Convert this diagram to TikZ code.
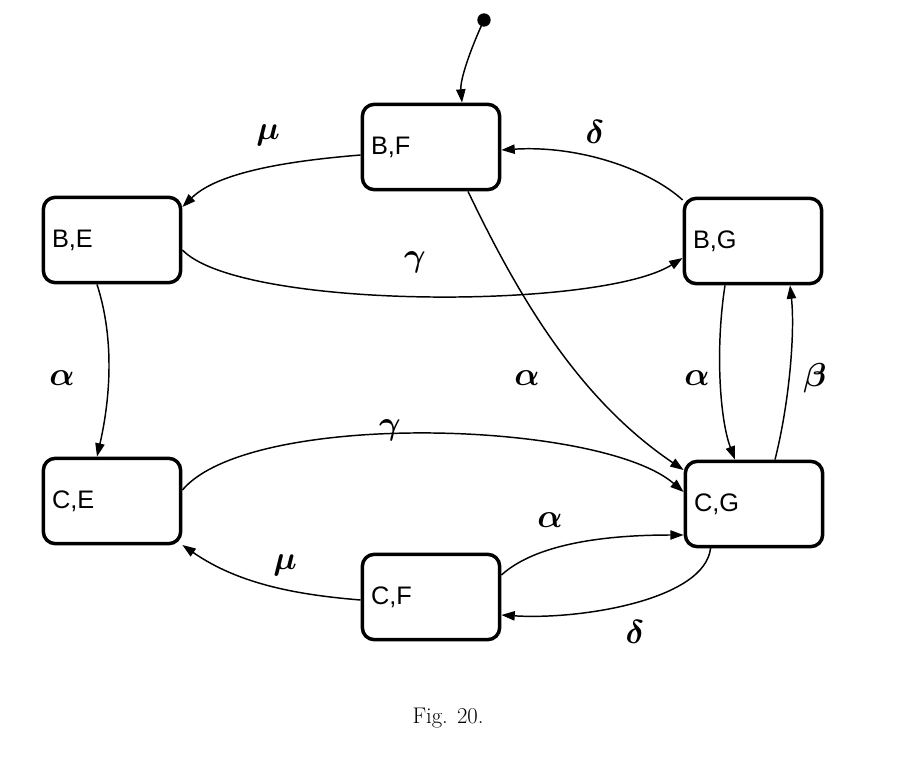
\documentclass[tikz,border=0pt]{standalone}
\usepackage{fontspec}
\usepackage{bm}
\newfontfamily\boxfont{Liberation Sans}
\usetikzlibrary{arrows.meta}
\begin{document}
\begin{tikzpicture}[x=0.75pt,y=-0.75pt,
 st/.style={draw,line width=2.6pt,rounded corners=9pt,minimum width=103pt,minimum height=64pt,inner sep=0pt,font=\boxfont\fontsize{19}{19}\selectfont,align=left,text width=90pt},
 ar/.style={line width=1.1pt,-{Triangle[length=10pt,width=7pt]}},
 lb/.style={font=\fontsize{24}{24}\selectfont}]
\useasboundingbox (0,0) rectangle (897,768);
\node[st] (BF) at (431,147) {B,F};
\node[st] (BE) at (112,240) {B,E};
\node[st] (BG) at (753,241) {B,G};
\node[st] (CE) at (112,501) {C,E};
\node[st] (CG) at (754,504) {C,G};
\node[st] (CF) at (431,597) {C,F};
\fill (484,20) circle (5pt) coordinate (init);
\draw[ar] (init) .. controls (470,50) and (460,80) .. (BF.north west -| 462,0);
\draw[ar] (BF.west |- 0,155) .. controls (300,160) and (220,170) .. (BE.north east |- 0,207);
\draw[ar] (BG.north west |- 0,200) .. controls (650,170) and (580,145) .. (BF.east |- 0,150);
\draw[ar] (BE.east |- 0,250) .. controls (240,310) and (600,310) .. (BG.west |- 0,258);
\draw[ar] (BF.south east -| 468,0) .. controls (520,300) and (580,400) .. (CG.west |- 0,470);
\draw[ar] (BE.south -| 97,0) .. controls (115,340) and (110,400) .. (CE.north -| 97,0);
\draw[ar] (BG.south -| 725,0) .. controls (715,350) and (720,420) .. (CG.north -| 735,0);
\draw[ar] (CG.north -| 775,0) .. controls (790,400) and (795,330) .. (BG.south -| 790,0);
\draw[ar] (CE.east |- 0,490) .. controls (250,410) and (600,420) .. (CG.west |- 0,492);
\draw[ar] (CF.west |- 0,600) .. controls (300,595) and (240,585) .. (CE.south east |- 0,545);
\draw[ar] (CF.east |- 0,575) .. controls (540,540) and (620,535) .. (CG.west |- 0,535);
\draw[ar] (CG.south west |- 0,548) ++(27,0) .. controls (705,600) and (580,620) .. (CF.east |- 0,615);
\node[lb] at (268,135) {$\bm\mu$};
\node[lb] at (595,132) {$\bm\delta$};
\node[lb] at (415,262) {$\bm\gamma$};
\node[lb] at (527,378) {$\bm\alpha$};
\node[lb] at (62,378) {$\bm\alpha$};
\node[lb] at (697,378) {$\bm\alpha$};
\node[lb] at (815,378) {$\bm\beta$};
\node[lb] at (390,430) {$\bm\gamma$};
\node[lb] at (285,565) {$\bm\mu$};
\node[lb] at (550,520) {$\bm\alpha$};
\node[lb] at (635,632) {$\bm\delta$};
\node[font=\fontsize{17}{17}\selectfont] at (448,718) {Fig. 20.};
\end{tikzpicture}
\end{document}
